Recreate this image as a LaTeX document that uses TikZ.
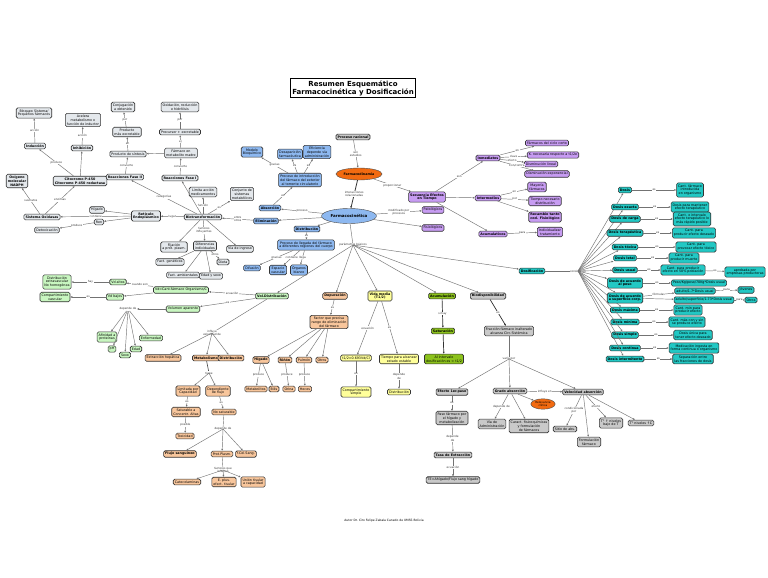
\documentclass[tikz,border=0pt]{standalone}
\usepackage{fontspec}
\setmainfont{DejaVu Sans}
\usetikzlibrary{shapes.geometric,arrows.meta}
\definecolor{gf}{HTML}{E4E8EC}
\definecolor{bf}{HTML}{8DB8F0}
\definecolor{pf}{HTML}{C79CF2}
\definecolor{tf}{HTML}{22C8C4}
\definecolor{grf}{HTML}{C8F6C0}
\definecolor{of}{HTML}{F8C69C}
\definecolor{yf}{HTML}{FFFF9A}
\definecolor{olf}{HTML}{8CC21C}
\definecolor{dgf}{HTML}{C9C9C9}
\definecolor{orf}{HTML}{F26A10}
\tikzset{
 nb/.style={draw=black!80,rounded corners=1.5pt,align=center,inner sep=1.6pt,font=\fontsize{3.3}{3.8}\selectfont,line width=0.6pt},
 g/.style={nb,fill=gf}, b/.style={nb,fill=bf}, p/.style={nb,fill=pf}, tq/.style={nb,fill=tf},
 gr/.style={nb,fill=grf}, o/.style={nb,fill=of}, ye/.style={nb,fill=yf}, ol/.style={nb,fill=olf}, dg/.style={nb,fill=dgf},
 bb/.style={font=\fontsize{3.3}{3.8}\selectfont\bfseries},
 el/.style={ellipse,draw=black!70,align=center,inner sep=1pt,font=\fontsize{3.3}{3.8}\selectfont\bfseries},
 a/.style={-{Latex[length=2pt,width=2pt]},draw=black!55,line width=0.45pt},
 lb/.style={fill=white,inner sep=0.5pt,font=\fontsize{2.8}{3.2}\selectfont,align=center,text=black!80},
}
\begin{document}
\begin{tikzpicture}[x=1pt,y=-1pt]
\useasboundingbox (0,0) rectangle (768,578);
\fill[white] (0,0) rectangle (768,578);
% title
\node[draw,line width=0.6pt,align=center,font=\fontsize{7}{8}\selectfont\bfseries,inner sep=2pt] (title) at (353,88) {Resumen Esquemático\\Farmacocinética y Dosificación};
% center
\node[dg,bb] (pr) at (353,137) {Proceso racional};
\node[el,fill=orf,minimum width=44pt,minimum height=12pt] (fd) at (359,174) {Farmacodinamia};
\node[el,fill=bf,minimum width=50pt,minimum height=15pt,font=\fontsize{4}{4.5}\selectfont\bfseries] (fc) at (349,216) {Farmacocinética};
\draw[a] (pr) -- node[lb]{son\\estudios} (fd);
\draw[a,line width=0.8pt,draw=black!80] (fd) -- node[lb]{interacciones\\relacionadas} (fc);
% gray top-left
\node[g] (bsd) at (34,113) {Bloqueo Sistema/\\Pequeños fármacos};
\node[g] (aam) at (83,120) {Acelera\\metabolismo o\\función de inductor};
\node[g,bb] (ind) at (35,146) {Inducción};
\node[g,bb] (inh) at (82,148) {Inhibición};
\node[g,bb] (cyp) at (80,181) {Citocromo P-450\\Citocromo P-450 reductasa};
\node[g,bb] (oxi) at (17,181) {Oxígeno\\molecular\\NADPH};
\node[g,bb] (sox) at (42,217) {Sistema Oxidasas};
\node[g] (hig) at (97,210) {Hígado};
\node[g] (ren) at (99,222) {Ren};
\node[g] (det) at (47,230) {Detoxicación};
\node[g,bb] (f2) at (125,177) {Reacciones Fase II};
\node[g,bb] (f1) at (180,178) {Reacciones Fase I};
\node[g] (conj) at (123,107) {Conjugación\\a obtenido};
\node[g] (pmx) at (127,132) {Producto\\más excretable};
\node[g] (pdi) at (128,154) {Producto de síntesis};
\node[g] (fmm) at (181,153) {Fármaco en\\metabolito madre};
\node[g] (pre) at (180,132) {Precursor + excretable};
\node[g] (oxr) at (180,107) {Oxidación, reducción\\e hidrólisis};
\node[g,bb] (bio) at (203,217) {Biotransformación};
\node[g,bb] (ret) at (146,216) {Retículo\\Endoplásmico};
\node[g] (lim) at (203,192) {Limita acción\\medicamentos};
\node[g] (csm) at (242,194) {Conjunto de\\sistemas\\metabólicos};
\node[g] (fpp) at (174,247) {Fijación\\a prot. plasm.};
\node[g] (dif) at (205,246) {Diferencias\\individuales};
\node[g] (via) at (240,249) {Vía de ingreso};
\node[g] (fge) at (170,262) {Fact. genéticos};
\node[g] (die) at (223,262) {Dieta};
\node[g] (fam) at (183,275) {Fact. ambientales};
\node[g] (eds) at (211,276) {Edad y sexo};
\draw[a] (ind) -- node[lb]{acción} (bsd);
\draw[a] (inh) -- node[lb]{acción} (aam);
\draw[a] (cyp) -- node[lb]{produce} (ind);
\draw[a] (cyp) -- (inh);
\draw[a] (sox) -- node[lb]{sustratos} (oxi);
\draw[a] (sox) -- node[lb]{enzimas} (cyp);
\draw[a] (ret) -- node[lb]{contiene} (sox);
\draw[a] (ret) -- (hig);
\draw[a] (ret) -- (ren);
\draw[a] (ren) -- node[lb]{produce} (det);
\draw[a] (bio) -- node[lb]{lugar} (ret);
\draw[a] (bio) -- node[lb]{categorías} (f2);
\draw[a] (bio) -- (f1);
\draw[a] (f2) -- node[lb]{convierte} (pdi);
\draw[a] (pdi) -- node[lb]{en} (pmx);
\draw[a] (pmx) -- node[lb]{por} (conj);
\draw[a] (f1) -- node[lb]{convierte} (fmm);
\draw[a] (fmm) -- (pdi);
\draw[a] (fmm) -- node[lb]{ej} (pre);
\draw[a] (pre) -- node[lb]{por} (oxr);
\draw[a] (bio) -- node[lb]{función} (lim);
\draw[a] (bio) -- node[lb]{es} (csm);
\draw[a] (bio) -- (fpp);
\draw[a] (bio) -- node[lb]{factores\\influyentes} (dif);
\draw[a] (bio) -- (via);
\draw[a] (dif) -- (fge);
\draw[a] (dif) -- node[lb]{otros} (die);
\draw[a] (dif) -- (fam);
\draw[a] (dif) -- (eds);
% blue
\node[b] (mbq) at (252,152) {Modelo\\Bioquímico};
\node[b] (dsf) at (290,154) {Desaparición\\farmacéutica};
\node[b] (efi) at (317,152) {Eficiencia\\depende vía\\administración};
\node[b] (pit) at (300,180) {Proceso de introducción\\del fármaco del exterior\\al torrente circulatorio};
\node[b,bb] (abs) at (270,208) {Absorción};
\node[b,bb] (eli) at (266,221) {Eliminación};
\node[b,bb] (dis) at (307,229) {Distribución};
\node[b] (pll) at (306,245) {Proceso de llegada del fármaco\\a diferentes regiones del cuerpo};
\node[b] (dfs) at (252,268) {Difusión};
\node[b] (esv) at (278,270) {Espacio\\vascular};
\node[b] (org) at (299,270) {Órganos\\blanco};
\draw[a] (fc) -- node[lb]{proceso} (abs);
\draw[a] (fc) -- (eli);
\draw[a] (fc) -- (dis);
\draw[a] (abs) -- node[lb]{es} (pit);
\draw[a] (pit) -- node[lb]{gracias} (mbq);
\draw[a] (pit) -- node[lb]{es} (dsf);
\draw[a] (pit) -- node[lb]{su} (efi);
\draw[a] (dis) -- node[lb]{es} (pll);
\draw[a] (pll) -- node[lb]{gracias} (dfs);
\draw[a] (pll) -- node[lb]{contiene} (esv);
\draw[a] (pll) -- node[lb]{llega} (org);
\draw[a] (eli) -- node[lb]{entre\\otros} (bio);
% purple
\node[p,bb] (sef) at (427,197) {Secuencia Efectos\\en Tiempo};
\node[p] (pat) at (433,210) {Patológicos};
\node[p] (fis) at (433,228) {Fisiológicos};
\node[p,bb] (inm) at (488,158) {Inmediatos};
\node[p,bb] (int) at (488,198) {Intermedios};
\node[p,bb] (acu) at (493,234) {Acumulativos};
\node[p] (p1) at (547,143) {Fármacos del ciclo corto};
\node[p] (p2) at (553,155) {K. necesaria respecto a t1/2e};
\node[p] (p3) at (541,164) {Disminución lineal};
\node[p] (p4) at (547,174) {Disminución exponencial};
\node[p] (p5) at (537,187) {Mayoría\\fármacos};
\node[p] (p6) at (545,201) {Tiempo necesario\\distribución};
\node[p,bb] (p7) at (545,217) {Recambio tanto\\cod. Fisiológico};
\node[p] (p8) at (550,232) {Individualizar\\tratamiento};
\draw[a] (fd) -- node[lb]{proporcionar} (sef);
\draw[a] (fc) -- node[lb]{modificado por\\procesos} (pat);
\draw[a] (fc) -- (fis);
\draw[a] (sef) -- node[lb]{son} (inm);
\draw[a] (sef) -- (int);
\draw[a] (sef) -- (acu);
\draw[a] (inm) -- node[lb]{en} (p1);
\draw[a] (inm) -- node[lb]{clave} (p2);
\draw[a] (inm) -- node[lb]{efecto} (p3);
\draw[a] (inm) -- node[lb]{Con/contra} (p4);
\draw[a] (int) -- node[lb]{en} (p5);
\draw[a] (int) -- node[lb]{por} (p6);
\draw[a] (int) -- (p7);
\draw[a] (acu) -- node[lb]{para} (p8);
% parametros
\coordinate (pb) at (353,245);
\draw[draw=black!55,line width=0.45pt] (fc) -- (pb);
\node[lb] at (353,245) {parámetros básicos};
% teal
\node[tq,bb] (dos) at (532,271) {Dosificación};
\coordinate (cons) at (578,271);
\draw[a] (pb) -- (dos);
\draw[draw=black!55,line width=0.45pt] (dos) -- (cons);
\node[lb] at (578,271) {consiste en};
\foreach \nm/\yy/\txt/\rx/\rt in {
 d1/190/{Dosis}/690/{Cant. fármaco\\introducida\\en organismo},
 d2/207/{Dosis exacta}/690/{Dosis para mantener\\efecto terapéutico},
 d3/219/{Dosis de carga}/692/{Cant. o intervalo\\efecto terapéutico lo\\más rápido posible},
 d4/233/{Dosis terapéutica}/694/{Cant. para\\producir efecto deseado},
 d5/247/{Dosis tóxica}/696/{Cant. para\\provocar efecto tóxico},
 d6/258/{Dosis letal}/684/{Cant. para\\producir muerte},
 d7/270/{Dosis usual}/683/{Cant. para producir\\efecto en 50\% población},
 d8/283/{Dosis de acuerdo\\al peso}/699/{Peso/Kg/peso/70Kg*Dosis usual},
 d10/310/{Dosis máxima}/688/{Cant. min para\\producir efecto},
 d11/322/{Dosis mínima}/687/{Cant. más con y sin\\se produce efecto},
 d12/335/{Dosis simple}/693/{Dosis única para\\tener efecto deseado},
 d13/348/{Dosis continua}/694/{Medicación ingesta en\\forma continua o organismo},
 d14/359/{Dosis intermitente}/693/{Separación entre\\las fracciones de dosis}}
{
 \node[tq,bb] (\nm) at (625,\yy) {\txt};
 \node[tq] (\nm r) at (\rx,\yy) {\rt};
 \draw[a] (cons) -- (\nm);
 \draw[a] (\nm) -- node[lb]{es} (\nm r);
}
\node[tq,bb] (d9) at (625,298) {Dosis de acuerdo\\a superficie corp.};
\draw[a] (cons) -- (d9);
\node[tq] (d9a) at (695,291) {adulto/1.7*Dosis usual};
\node[tq] (d9b) at (704,300) {adulto/superficie/1.73*Dosis usual};
\draw[a] (d9) -- node[lb]{fórmulas} (d9a);
\draw[a] (d9) -- (d9b);
\node[tq] (jov) at (746,290) {Jóvenes};
\node[tq] (otr) at (751,300) {Otros};
\draw[a] (d9a) -- node[lb]{para} (jov);
\draw[a] (d9b) -- node[lb]{para} (otr);
\node[tq] (apr) at (745,272) {aprobada por\\empresas productoras};
\draw[a] (d7r) -- node[lb]{es} (apr);
% green
\node[gr,bb] (vd) at (272,296) {Vol.Distribución};
\node[gr] (vdf) at (181,290) {Vd=Cant.fármaco Organismo/C};
\node[gr] (vap) at (183,309) {Volumen aparente};
\node[gr] (vda) at (118,282) {Vd altos};
\node[gr] (vdb) at (115,297) {Vd bajos};
\node[gr] (dex) at (57,282) {Distribución\\extravascular\\No homogénea};
\node[gr] (cva) at (55,297) {Compartimiento\\vascular};
\node[lb] (dep) at (128,309) {depende de};
\node[gr] (afp) at (107,337) {Afinidad a\\proteínas};
\node[gr] (ph) at (112,349) {pH};
\node[gr] (sex) at (125,355) {Sexo};
\node[gr] (eda) at (136,349) {Edad};
\node[gr] (enf) at (151,338) {Enfermedad};
\draw[a] (pb) -- (vd);
\draw[a] (vd) -- node[lb]{ecuación} (vdf);
\draw[a] (vd) -- node[lb]{es} (vap);
\draw[a] (vdf) -- node[lb]{cuando son} (vda);
\draw[a] (vdf) -- (vdb);
\draw[a] (vda) -- node[lb]{hay} (dex);
\draw[a] (vdb) -- node[lb]{es} (cva);
\draw[a] (vap) -- (dep);
\foreach \q in {afp,ph,sex,eda,enf} \draw[a] (dep) -- (\q);
% peach
\node[o,bb] (dep2) at (335,296) {Depuración};
\node[o] (fqp) at (329,322) {Factor que precisa\\rango de eliminación\\del fármaco};
\node[o,bb] (hgo) at (261,360) {Hígado};
\node[o,bb] (rin) at (285,360) {Riñón};
\node[o] (pul) at (304,360) {Pulmón};
\node[o] (otro) at (322,360) {Otros};
\node[o] (met) at (256,389) {Metabolitos};
\node[o] (bil) at (274,389) {Bilis};
\node[o] (ori) at (289,389) {Orina};
\node[o] (hec) at (305,389) {Heces};
\draw[a] (pb) -- (dep2);
\draw[a] (dep2) -- node[lb]{es} (fqp);
\foreach \q in {hgo,rin,pul,otro} \draw[a] (fqp) -- (\q);
\draw[a] (hgo) -- node[lb]{produce} (met);
\draw[a] (hgo) -- (bil);
\draw[a] (rin) -- node[lb]{produce} (ori);
\draw[a] (pul) -- node[lb]{produce} (hec);
\coordinate (infl) at (212,333);
\draw[draw=black!55,line width=0.45pt] (vd) -- (infl);
\node[lb] at (infl) {influye\\velocidad de};
\node[o] (exh) at (163,358) {Extracción hepática};
\node[o,bb] (mtb) at (206,358) {Metabolismo};
\node[o,bb] (dst) at (231,358) {Distribución};
\foreach \q in {exh,mtb,dst} \draw[a] (infl) -- (\q);
\node[o] (lpc) at (188,391) {Limitada por\\Capacidad};
\node[o] (ddf) at (218,391) {Dependiente\\de flujo};
\node[o] (sat) at (186,412) {Saturable a\\Concentr. Altas};
\node[o] (nsa) at (224,412) {No saturable};
\node[o] (tox) at (185,436) {Toxicidad};
\node[o,bb] (fsa) at (180,454) {Flujo sanguíneo};
\node[o] (ppl) at (222,454) {Prot.Plasm.};
\node[o] (fcs) at (246,454) {f.Cel.Sang.};
\node[o] (cat) at (187,482) {Catecolaminas};
\node[o] (epl) at (224,482) {E. plus.\\efect. tisular};
\node[o] (utc) at (253,482) {Unión tisular\\a capacidad};
\coordinate (tie) at (209,373);
\draw[draw=black!70,line width=0.6pt] (mtb) -- (tie);
\node[lb] at (tie) {tiene};
\draw[a] (tie) -- (lpc); \draw[a] (tie) -- (ddf);
\draw[a] (lpc) -- node[lb]{es} (sat);
\draw[a] (ddf) -- node[lb]{es} (nsa);
\draw[a] (sat) -- node[lb]{posible} (tox);
\coordinate (ddd) at (223,429);
\draw[draw=black!55] (nsa) -- (ddd);
\node[lb] at (ddd) {depende de};
\foreach \q in {fsa,ppl,fcs} \draw[a] (ddd) -- (\q);
\coordinate (fqi) at (223,470);
\draw[draw=black!55] (ppl) -- (fqi);
\node[lb] at (fqi) {factores que\\influyen};
\foreach \q in {cat,epl,utc} \draw[a] (fqi) -- (\q);
% yellow
\node[ye,bb] (vm) at (380,296) {Vida media\\(T1/2)};
\node[ye] (vel) at (356,358) {t1/2=0.693Vd/Cl};
\node[ye] (tae) at (399,359) {Tiempo para alcanzar\\estado estable};
\node[ye] (csi) at (356,392) {Compartimiento\\simple};
\node[ye] (dsb) at (399,392) {Distribución};
\draw[a] (pb) -- (vm);
\draw[a] (vm) -- node[lb]{ecuación} (vel);
\draw[a] (vm) -- node[lb]{es} (tae);
\draw[a] (vel) -- node[lb]{en} (csi);
\draw[a] (tae) -- node[lb]{depende\\de} (dsb);
% olive
\node[ol,bb] (acm) at (442,296) {Acumulación};
\node[ol,bb] (sta) at (443,331) {Saturación};
\node[ol] (aid) at (444,359) {Al intervalo\\dosificación es < t1/2};
\draw[a] (pb) -- (acm);
\draw[a,line width=0.7pt,draw=black!80] (acm) -- node[lb]{si hay} (sta);
\draw[a,line width=0.7pt,draw=black!80] (sta) -- (aid);
% gray bottom
\node[dg,bb] (bd) at (488,296) {Biodisponibilidad};
\node[dg] (ffi) at (509,331) {Fracción fármaco inalterado\\alcanza Circ.Sistémica};
\coordinate (vp) at (509,359);
\node[dg,bb] (e1p) at (452,392) {Efecto 1er.paso};
\node[dg,bb] (gab) at (510,391) {Grado absorción};
\node[dg,bb] (vab) at (583,392) {Velocidad absorción};
\node[el,fill=orf,font=\fontsize{2.8}{3.2}\selectfont] (rel) at (543,404) {Relevancia\\clínica};
\node[dg] (vad) at (492,424) {Vía de\\Administración};
\node[dg] (cfq) at (529,426) {Caract. fisicoquímicas\\y formulación\\de fármacos};
\node[dg] (sab) at (565,429) {Sitio de abs.};
\node[dg] (ffa) at (589,442) {Formulación\\fármaco};
\node[dg] (tb) at (611,423) {T° ↑ niveles\\bajo de T};
\node[dg] (tc) at (641,423) {T° niveles ↑C};
\node[dg] (pfh) at (452,418) {Paso fármaco por\\el hígado y\\metabolización};
\node[dg,bb] (tex) at (453,455) {Tasa de Extracción};
\node[dg] (tef) at (453,480) {TE=Ahígado/Flujo sang hígado};
\draw[a] (pb) -- (bd);
\draw[a,line width=0.7pt,draw=black!80] (bd) -- node[lb]{es} (ffi);
\draw[draw=black!55] (ffi) -- (vp);
\node[lb] at (vp) {varía por};
\draw[a] (vp) -- (e1p); \draw[a] (vp) -- (gab); \draw[a] (vp) -- (vab);
\draw[a] (gab) -- node[lb]{influye en} (vab);
\draw[a] (gab) -- (rel);
\draw[a] (gab) -- node[lb]{depende de} (vad);
\draw[a] (gab) -- (cfq);
\draw[a] (vab) -- node[lb]{condicionada\\por} (sab);
\draw[a] (vab) -- (ffa);
\draw[a] (vab) -- node[lb]{efecto} (tb);
\draw[a] (vab) -- (tc);
\draw[a] (e1p) -- node[lb]{es} (pfh);
\draw[a] (pfh) -- node[lb]{depende\\de} (tex);
\draw[a] (tex) -- node[lb]{ecuación} (tef);
% footer
\node[font=\fontsize{3}{3.5}\selectfont] (ft) at (384,521) {Autor Dr. Ciro Felipe Zabala Canedo de UMSS Bolivia};
\end{tikzpicture}
\end{document}
